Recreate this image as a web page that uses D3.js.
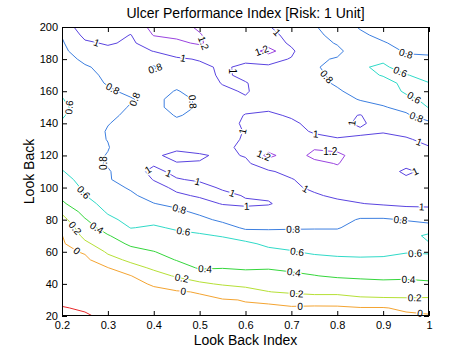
<!DOCTYPE html>
<html><head><meta charset="utf-8">
<script src="https://cdn.jsdelivr.net/npm/d3@7"></script>
<style>body{margin:0;background:#fff}svg{display:block}</style>
</head><body>
<svg id="c" width="474" height="355"></svg>
<script>
// ---------- data ----------
const xValues = [0.20,0.25,0.30,0.35,0.40,0.45,0.50,0.55,0.60,0.65,0.70,0.75,0.80,0.85,0.90,0.95,1.00];
const yValues = [20,25,30,35,40,45,50,55,60,65,70,75,80,85,90,95,100,105,110,115,120,125,130,135,140,145,150,155,160,165,170,175,180,185,190,195,200];
// index value for each Look Back (y) at a given Look Back Index (x)
const zAt020 = [-0.24,-0.205,-0.18,-0.16,-0.14,-0.115,-0.093,-0.071,-0.049,-0.027,-0.005,0.06,0.14,0.23,0.37,0.44,0.49,0.54,0.59,0.64,0.67,0.69,0.68,0.65,0.62,0.58,0.55,0.59,0.63,0.67,0.70,0.72,0.74,0.76,0.78,0.81,0.87];
const zAt025 = [-0.21,-0.19,-0.17,-0.15,-0.13,-0.10,-0.07,-0.04,0.02,0.16,0.25,0.31,0.385,0.47,0.54,0.595,0.63,0.66,0.69,0.72,0.73,0.74,0.74,0.73,0.72,0.71,0.71,0.72,0.74,0.75,0.77,0.785,0.83,0.90,0.97,1.05,1.12];
const zAt030 = [-0.18,-0.16,-0.14,-0.11,-0.08,-0.045,-0.005,0.13,0.23,0.31,0.385,0.49,0.56,0.62,0.66,0.70,0.74,0.79,0.78,0.82,0.81,0.79,0.805,0.81,0.795,0.78,0.75,0.76,0.78,0.81,0.82,0.84,0.88,0.95,1.02,1.06,1.10];
const zAt035 = [-0.15,-0.13,-0.11,-0.08,-0.05,-0.005,0.13,0.24,0.34,0.43,0.52,0.605,0.65,0.69,0.73,0.77,0.82,0.85,0.93,0.97,0.95,0.93,0.90,0.86,0.84,0.82,0.81,0.79,0.83,0.86,0.88,0.90,0.92,0.94,0.97,0.995,1.06];
const zAt040 = [-0.12,-0.10,-0.08,-0.04,0.02,0.13,0.23,0.31,0.395,0.47,0.52,0.58,0.64,0.70,0.795,0.87,0.93,1.01,1.04,0.98,0.97,0.95,0.93,0.90,0.88,0.86,0.85,0.85,0.86,0.87,0.84,0.78,0.90,1.005,1.10,1.21,1.26];
const zAt045 = [-0.09,-0.075,-0.05,-0.015,0.09,0.22,0.31,0.41,0.46,0.51,0.56,0.62,0.69,0.76,0.85,0.97,1.04,1.01,0.96,0.99,1.05,0.96,0.90,0.86,0.83,0.79,0.74,0.74,0.79,0.84,0.90,0.94,0.98,1.07,1.17,1.23,1.25];
const zAt050 = [-0.07,-0.05,-0.03,0.01,0.17,0.29,0.42,0.46,0.50,0.54,0.58,0.65,0.75,0.84,0.94,1.02,1.05,0.98,0.96,0.99,1.02,0.93,0.90,0.87,0.85,0.83,0.82,0.83,0.86,0.90,0.93,0.97,1.01,1.12,1.22,1.21,1.18];
const zAt055 = [-0.04,-0.03,-0.01,0.08,0.22,0.33,0.405,0.44,0.48,0.54,0.61,0.72,0.84,0.92,1.01,1.04,0.98,0.94,0.95,0.95,0.97,0.96,0.94,0.93,0.92,0.91,0.90,0.93,0.96,1.01,1.03,1.02,1.04,1.06,1.10,1.12,1.12];
const zAt060 = [-0.03,-0.015,0.005,0.13,0.25,0.37,0.41,0.45,0.50,0.56,0.69,0.83,0.90,0.96,1.02,0.99,0.96,0.95,0.96,0.97,1.01,1.04,1.02,1.01,1.03,1.01,0.95,0.98,1.02,1.01,0.96,0.97,1.03,1.06,1.08,1.10,1.10];
const zAt065 = [-0.04,-0.02,0.02,0.195,0.28,0.35,0.41,0.47,0.55,0.64,0.74,0.82,0.87,0.95,1.01,0.98,0.94,0.95,0.98,1.10,1.25,1.12,1.06,1.05,1.05,1.03,0.97,0.93,0.90,0.92,0.95,0.98,1.05,1.28,1.10,1.06,1.01];
const zAt070 = [-0.05,-0.015,0.06,0.23,0.30,0.37,0.43,0.50,0.59,0.65,0.72,0.82,0.86,0.90,0.95,0.95,0.97,0.99,1.05,1.10,1.10,1.10,1.08,1.06,1.03,0.98,0.93,0.90,0.88,0.88,0.90,0.94,0.99,1.03,0.97,0.94,0.92];
const zAt075 = [-0.08,-0.04,0.12,0.24,0.32,0.395,0.45,0.54,0.63,0.69,0.75,0.81,0.85,0.89,0.93,0.98,1.03,1.07,1.10,1.15,1.25,1.18,1.05,0.98,0.95,0.93,0.91,0.89,0.87,0.85,0.83,0.81,0.82,0.84,0.85,0.83,0.81];
const zAt080 = [-0.07,-0.03,0.10,0.25,0.33,0.42,0.49,0.57,0.64,0.70,0.75,0.81,0.86,0.91,0.96,1.03,1.07,1.10,1.15,1.21,1.24,1.15,1.01,0.96,0.95,0.93,0.90,0.86,0.82,0.78,0.77,0.77,0.79,0.83,0.79,0.76,0.74];
const zAt085 = [-0.06,-0.01,0.15,0.28,0.35,0.43,0.50,0.58,0.64,0.69,0.72,0.75,0.785,0.88,0.995,1.05,1.08,1.09,1.10,1.10,1.12,1.08,1.03,0.97,1.03,1.01,0.86,0.79,0.74,0.69,0.65,0.62,0.64,0.72,0.75,0.78,0.81];
const zAt090 = [-0.05,-0.01,0.16,0.29,0.36,0.44,0.50,0.58,0.63,0.67,0.71,0.74,0.78,0.90,1.02,1.05,1.06,1.06,1.05,1.06,1.07,1.06,1.04,0.99,0.92,0.86,0.81,0.76,0.71,0.66,0.59,0.57,0.63,0.72,0.79,0.83,0.85];
const zAt095 = [-0.03,0.03,0.17,0.28,0.36,0.43,0.49,0.55,0.61,0.66,0.68,0.73,0.81,0.93,1.04,1.05,1.04,1.02,0.98,1.03,1.04,1.05,1.02,0.95,0.88,0.82,0.76,0.65,0.57,0.56,0.59,0.68,0.76,0.82,0.84,0.84,0.83];
const zAt100 = [-0.02,0.07,0.17,0.27,0.37,0.45,0.50,0.56,0.615,0.61,0.56,0.72,0.86,0.96,1.03,1.04,1.03,1.03,1.03,1.03,1.03,1.01,0.95,0.89,0.83,0.72,0.59,0.55,0.55,0.595,0.66,0.72,0.77,0.83,0.86,0.87,0.86];
const zColumns = [zAt020,zAt025,zAt030,zAt035,zAt040,zAt045,zAt050,zAt055,zAt060,zAt065,zAt070,zAt075,zAt080,zAt085,zAt090,zAt095,zAt100];

const levels = [-0.2, 0, 0.2, 0.4, 0.6, 0.8, 1, 1.2];
const levelColors = ["#e8282a","#f4a431","#b6e036","#35d63c","#30dac8","#3d7fe0","#5a44e0","#9a44e0"];

const xTicks = [0.2,0.3,0.4,0.5,0.6,0.7,0.8,0.9,1];
const xTickLabels = ["0.2","0.3","0.4","0.5","0.6","0.7","0.8","0.9","1"];
const yTicks = [20,40,60,80,100,120,140,160,180,200];

// inline contour labels: level, and the data point near which it sits
const labelLevels = [1,1.2,1,1.2,1,0.8,1,0.8,0.8,0.6,0.8,0.8,0.8,0.6,0.6,0.8,1,1,1,1,0.8,1.2,1.2,1,1,1,1,1,0.6,1,1,1,0.8,0.8,0.2,0.4,0.8,0.6,0,0.6,0.6,0.4,0.2,0.4,0.4,0,0.2,0.2,0,0];
const labelX = [0.272,0.515,0.464,0.635,0.66,0.403,0.563,0.765,0.948,0.94,0.308,0.388,0.479,0.228,0.962,0.973,0.813,0.613,0.752,0.977,0.283,0.632,0.784,0.385,0.439,0.494,0.573,0.984,0.239,0.73,0.603,0.984,0.454,0.937,0.228,0.276,0.704,0.464,0.236,0.711,0.969,0.512,0.461,0.704,0.955,0.464,0.711,0.969,0.719,0.98];
const labelY = [185.7,185.7,180.5,185.7,194,174.3,172.2,167,182.6,173.7,160.3,155,153,148.3,152.4,144,144,133.8,131.7,127.5,115.7,119.3,120.3,112,112,100.5,98.5,106.8,95.4,98.5,87,86,85,77.7,74.6,75,72.9,70.9,62.2,57.4,53.8,47.6,43.5,44.5,41.4,34.1,32,28.9,24.2,20.6];

// ---------- drawing ----------
const svg = d3.select("#c");
const L = 62, R = 429, T = 27, B = 316;
const x = d3.scaleLinear().domain([0.2, 1]).range([L, R]);
const y = d3.scaleLinear().domain([20, 200]).range([B, T]);
const nx = xValues.length, ny = yValues.length;
const gx = d3.scaleLinear().domain([0.5, nx - 0.5]).range([x(xValues[0]), x(xValues[nx - 1])]);
const gy = d3.scaleLinear().domain([0.5, ny - 0.5]).range([y(yValues[0]), y(yValues[ny - 1])]);

const grid = new Array(nx * ny);
for (let j = 0; j < ny; j++) for (let i = 0; i < nx; i++) grid[i + j * nx] = zColumns[i][j];
const contours = d3.contours().size([nx, ny]).thresholds(levels)(grid);

function isolines(mp) {
  const out = [];
  const inside = p => p[0] > 0.25 && p[0] < nx - 0.25 && p[1] > 0.25 && p[1] < ny - 0.25;
  mp.coordinates.forEach(poly => poly.forEach(ring => {
    let pts = ring.slice(0, -1);
    const k = pts.findIndex(p => !inside(p));
    if (k < 0) { out.push(ring.slice()); return; }
    pts = pts.slice(k).concat(pts.slice(0, k));
    let cur = [];
    pts.forEach(p => {
      if (inside(p)) cur.push(p);
      else { if (cur.length > 1) out.push(cur); cur = []; }
    });
    if (cur.length > 1) out.push(cur);
  }));
  return out.map(l => l.map(p => [gx(p[0]), gy(p[1])]));
}

svg.append("defs").append("clipPath").attr("id", "plot")
  .append("rect").attr("x", L).attr("y", T).attr("width", R - L).attr("height", B - T);

const lineGen = d3.line();
const linesByLevel = new Map();
const gLines = svg.append("g").attr("clip-path", "url(#plot)");
contours.forEach(c => {
  const lines = isolines(c);
  linesByLevel.set(c.value, lines);
  gLines.selectAll(null).data(lines).join("path")
    .attr("d", lineGen)
    .attr("fill", "none")
    .attr("stroke", levelColors[levels.indexOf(c.value)])
    .attr("stroke-width", 1)
    .attr("stroke-linejoin", "round");
});

// labels
const gLab = svg.append("g");
labelLevels.forEach((lv, i) => {
  const px = x(labelX[i]), py = y(labelY[i]);
  let best = null, bd = Infinity;
  (linesByLevel.get(lv) || []).forEach(line => {
    for (let k = 0; k < line.length - 1; k++) {
      const a = line[k], b = line[k + 1];
      const dx = b[0] - a[0], dy = b[1] - a[1];
      const l2 = dx * dx + dy * dy || 1e-9;
      let t = ((px - a[0]) * dx + (py - a[1]) * dy) / l2;
      t = Math.max(0, Math.min(1, t));
      const qx = a[0] + t * dx, qy = a[1] + t * dy;
      const d = (qx - px) ** 2 + (qy - py) ** 2;
      if (d < bd) { bd = d; best = { qx, qy, line, k }; }
    }
  });
  if (!best) return;
  const ln = best.line;
  let k0 = best.k, acc = 0;
  while (k0 > 0 && acc < 4) { acc += Math.hypot(ln[k0][0] - ln[k0 - 1][0], ln[k0][1] - ln[k0 - 1][1]); k0--; }
  let k1 = best.k + 1; acc = 0;
  while (k1 < ln.length - 1 && acc < 4) { acc += Math.hypot(ln[k1 + 1][0] - ln[k1][0], ln[k1 + 1][1] - ln[k1][1]); k1++; }
  let ang = Math.atan2(ln[k1][1] - ln[k0][1], ln[k1][0] - ln[k0][0]) * 180 / Math.PI;
  if (ang > 90) ang -= 180;
  if (ang < -90) ang += 180;
  gLab.append("text")
    .attr("transform", `translate(${best.qx},${best.qy}) rotate(${ang})`)
    .attr("text-anchor", "middle")
    .attr("dy", "0.35em")
    .attr("font-family", "Liberation Sans, Arial, sans-serif")
    .attr("font-size", 10)
    .attr("fill", "#000")
    .attr("stroke", "#fff")
    .attr("stroke-width", 2.5)
    .attr("paint-order", "stroke")
    .text(String(lv));
});

// axes
const font = "Liberation Sans, Arial, sans-serif";
const ax = svg.append("g").attr("transform", `translate(0,${B})`)
  .call(d3.axisBottom(x).tickValues(xTicks).tickFormat((d, i) => xTickLabels[i]).tickSizeInner(-5).tickSizeOuter(0).tickPadding(5));
const axTop = svg.append("g").attr("transform", `translate(0,${T})`)
  .call(d3.axisTop(x).tickValues(xTicks).tickFormat("").tickSizeInner(-5).tickSizeOuter(0));
const ay = svg.append("g").attr("transform", `translate(${L},0)`)
  .call(d3.axisLeft(y).tickValues(yTicks).tickSizeInner(-5).tickSizeOuter(0).tickPadding(4));
const ayR = svg.append("g").attr("transform", `translate(${R},0)`)
  .call(d3.axisRight(y).tickValues(yTicks).tickFormat("").tickSizeInner(-5).tickSizeOuter(0));
[ax, axTop, ay, ayR].forEach(g => {
  g.select(".domain").remove();
  g.selectAll("text").attr("font-family", font).attr("font-size", 11).attr("fill", "#000");
  g.selectAll(".tick line").attr("stroke", "#000");
});
svg.append("rect").attr("x", L + 0.5).attr("y", T + 0.5).attr("width", R - L - 1).attr("height", B - T - 1)
  .attr("fill", "none").attr("stroke", "#000").attr("stroke-width", 1);

svg.append("text").attr("x", (L + R) / 2).attr("y", 18).attr("text-anchor", "middle")
  .attr("font-family", font).attr("font-size", 14).attr("fill", "#000")
  .text("Ulcer Performance Index [Risk: 1 Unit]");
svg.append("text").attr("x", (L + R) / 2).attr("y", 345).attr("text-anchor", "middle")
  .attr("font-family", font).attr("font-size", 14).attr("fill", "#000")
  .text("Look Back Index");
svg.append("text").attr("transform", `translate(34,${(T + B) / 2}) rotate(-90)`).attr("text-anchor", "middle")
  .attr("font-family", font).attr("font-size", 14).attr("fill", "#000")
  .text("Look Back");
</script>
</body></html>
